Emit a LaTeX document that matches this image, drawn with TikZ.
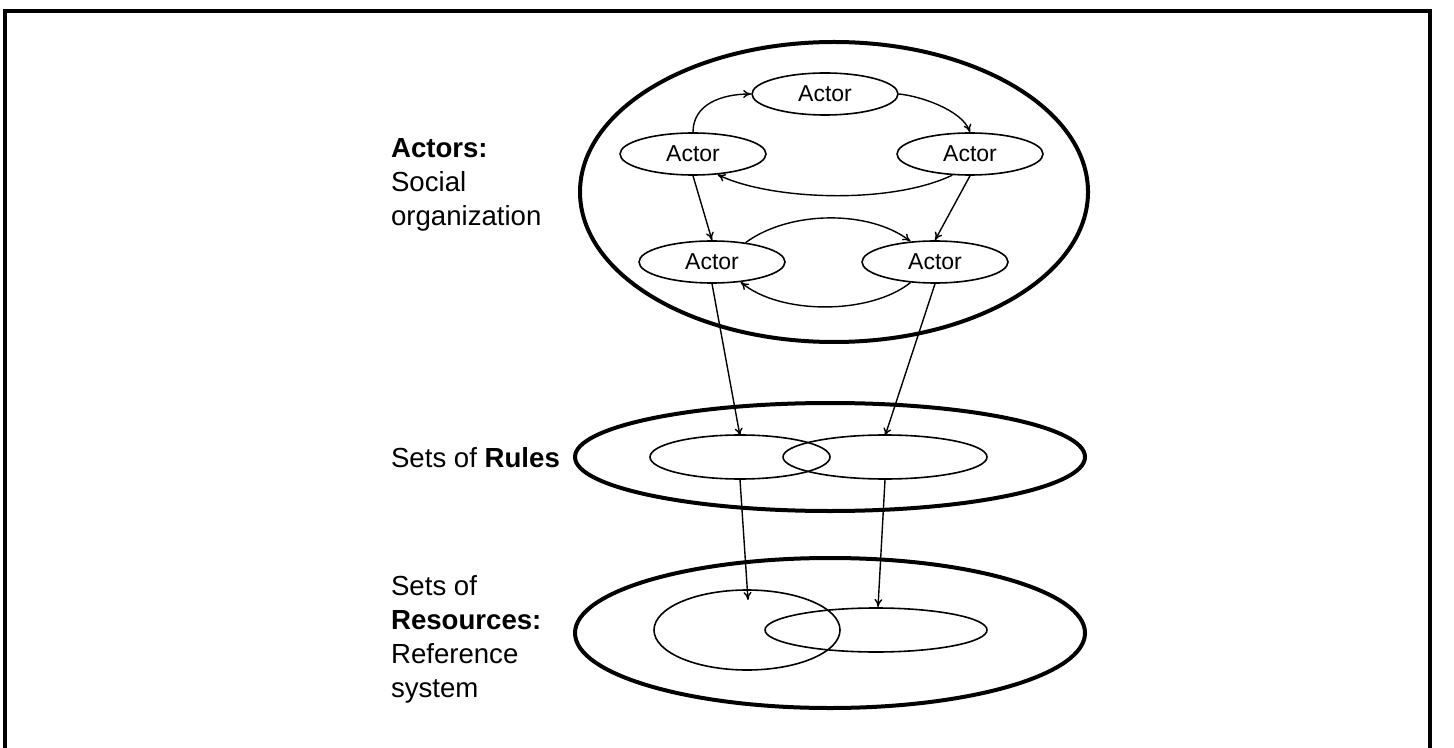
\documentclass[tikz,border=0pt]{standalone}
\usepackage{fontspec}
\setmainfont{Liberation Sans}
\usetikzlibrary{shapes.geometric,arrows.meta}
\begin{document}
\begin{tikzpicture}[x=0.5pt,y=-0.5pt,
  ell/.style={ellipse,draw,line width=0.8pt,inner sep=0pt},
  big/.style={ellipse,draw,line width=2pt,inner sep=0pt},
  actor/.style={ell,minimum width=73pt,minimum height=21pt,font=\fontsize{11.5}{12}\selectfont},
  arr/.style={-{To[length=4pt,width=4pt]},line width=0.7pt},
  lbl/.style={anchor=west,align=left,font=\fontsize{13.8}{17}\selectfont}]
\useasboundingbox (0,0) rectangle (1454,748);
\draw[line width=2pt] (5,748) -- (5,11) -- (1430,11) -- (1430,748);
\node[big,minimum width=254pt,minimum height=150pt] (top) at (834,192) {};
\node[actor] (a1) at (825,94) {Actor};
\node[actor] (a2) at (693,154) {Actor};
\node[actor] (a3) at (970,154) {Actor};
\node[actor] (a4) at (712,262) {Actor};
\node[actor] (a5) at (935,262) {Actor};
\node[big,minimum width=255pt,minimum height=54pt] (rules) at (830,457) {};
\node[ell,minimum width=90pt,minimum height=22pt] (r1) at (740,457) {};
\node[ell,minimum width=102pt,minimum height=22pt] (r2) at (885,457) {};
\node[big,minimum width=255pt,minimum height=75pt] (res) at (830,633) {};
\node[ell,minimum width=93pt,minimum height=40pt] (s1) at (747,630) {};
\node[ell,minimum width=111pt,minimum height=22pt] (s2) at (876,630) {};
\draw[arr] (a2.north) .. controls (693,105) and (720,94) .. (a1.west);
\draw[arr] (a1.east) .. controls (920,96) and (962,110) .. (a3.north);
\draw[arr] (a3.-130) .. controls (890,205) and (770,200) .. (a2.-40);
\draw[arr] (a4.30) .. controls (790,210) and (870,210) .. (a5.140);
\draw[arr] (a5.-140) .. controls (870,315) and (780,315) .. (a4.-35);
\draw[arr] (a2.south) -- (a4.north);
\draw[arr] (a3.south) -- (a5.north);
\coordinate (p1) at (740,436);
\coordinate (p2) at (885,436);
\coordinate (q1) at (748,600);
\coordinate (q2) at (878,607);
\draw[arr] (a4.south) -- (p1);
\draw[arr] (a5.south) -- (p2);
\draw[arr] (r1.south) -- (q1);
\draw[arr] (r2.south) -- (q2);
\node[lbl] (t1) at (384,185) {\textbf{Actors:}\\Social\\organization};
\node[lbl] (t2) at (384,458) {Sets of \textbf{Rules}};
\node[lbl] (t3) at (384,639) {Sets of\\\textbf{Resources:}\\Reference\\system};
\end{tikzpicture}
\end{document}
